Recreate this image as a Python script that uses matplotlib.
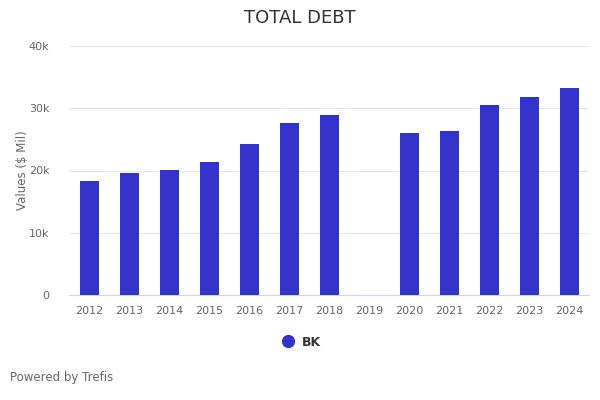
import matplotlib
matplotlib.use("Agg")
import matplotlib.pyplot as plt
from matplotlib.lines import Line2D

# data ($ Mil)
years = ["2012", "2013", "2014", "2015", "2016", "2017", "2018",
         "2019", "2020", "2021", "2022", "2023", "2024"]
debt = [18300, 19600, 20100, 21400, 24300, 27700, 28900,
        None, 26000, 26400, 30500, 31800, 33300]
yticks = [0, 10000, 20000, 30000, 40000]
ytick_labels = ["0", "10k", "20k", "30k", "40k"]

bar_color = "#3333cc"
grey = "#666666"

fig = plt.figure(figsize=(6, 4), dpi=100)
ax = fig.add_axes([0.115, 0.2625, 0.867, 0.6225])

xs = [i for i, v in enumerate(debt) if v is not None]
vals = [v for v in debt if v is not None]
ax.bar(xs, vals, width=0.475, color=bar_color, zorder=3)

ax.set_xlim(-0.5, len(years) - 0.5)
ax.set_ylim(0, 40000)
ax.set_xticks(range(len(years)))
ax.set_xticklabels(years)
ax.set_yticks(yticks)
ax.set_yticklabels(ytick_labels)
ax.tick_params(axis="both", length=0, colors=grey, labelsize=8)
ax.tick_params(axis="x", pad=8)
ax.tick_params(axis="y", pad=14)
ax.grid(axis="y", color="#e6e6e6", linewidth=0.8, zorder=0)

for side in ["top", "right", "left"]:
    ax.spines[side].set_visible(False)
ax.spines["bottom"].set_color("#ccd6eb")
ax.spines["bottom"].set_linewidth(0.8)

ax.set_ylabel(r"Values (\$ Mil)", color=grey, fontsize=8.5)
ax.yaxis.set_label_coords(-0.077, 0.5)

fig.text(0.5, 0.955, "TOTAL DEBT", ha="center", va="center",
         fontsize=13, color="#333333")

handle = Line2D([], [], marker="o", linestyle="", markersize=8.5,
                color=bar_color)
leg = fig.legend([handle], ["BK"], loc="center", bbox_to_anchor=(0.497, 0.145),
                 frameon=False, handletextpad=0.1, fontsize=9)
for t in leg.get_texts():
    t.set_fontweight("bold")
    t.set_color("#333333")

fig.text(0.017, 0.055, "Powered by Trefis", ha="left", va="center",
         fontsize=8.5, color=grey)

fig.savefig("out.png", dpi=100)
